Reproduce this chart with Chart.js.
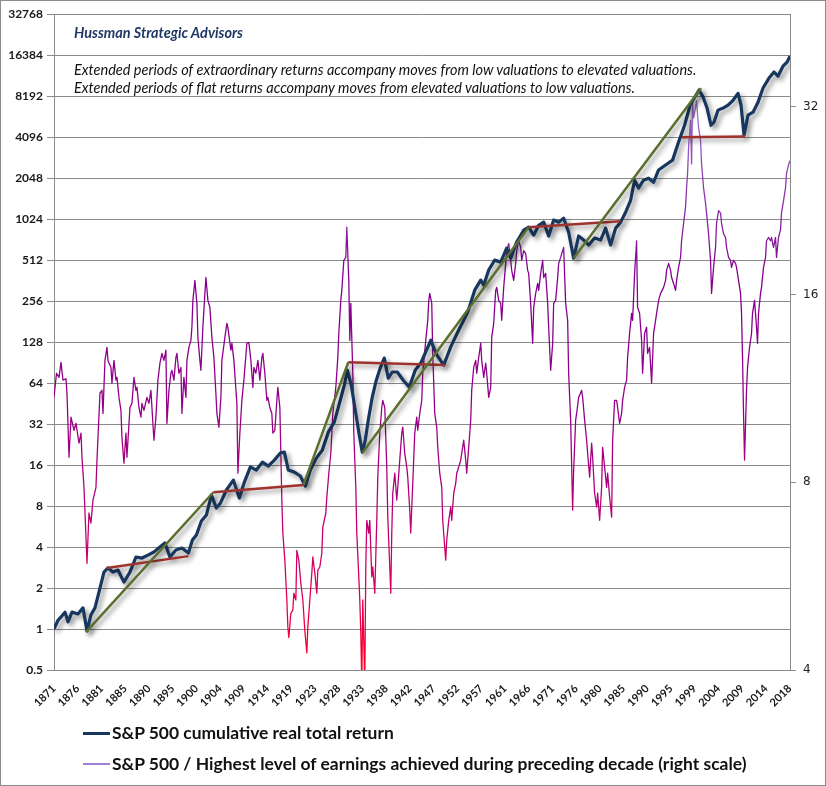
<!DOCTYPE html>
<html>
<head>
<meta charset="utf-8">
<script src="https://cdn.jsdelivr.net/npm/chart.js@4.4.0/dist/chart.umd.min.js"></script>
<style>
  html, body { margin: 0; padding: 0; background: #fff; }
  #wrap { position: relative; width: 826px; height: 786px; font-family: Lato, "Open Sans", sans-serif; overflow: hidden; }
  #wrap canvas { position: absolute; left: 0; top: 0; }
  #frame { position: absolute; left: 0; top: 0; width: 826px; height: 786px; box-sizing: border-box; border: 1px solid #8c8c8c; pointer-events: none; }
  .txt { position: absolute; white-space: nowrap; line-height: 1; transform: translateY(-50%); }
  .note { font-style: italic; color: #111; font-size: 15px; }
  .brand { font-style: italic; font-weight: bold; color: #1f3864; font-size: 15px; }
  .legtxt { font-weight: bold; color: #111; font-size: 18px; }
  .swatch { position: absolute; left: 83px; width: 27px; }
</style>
</head>
<body>
<div id="wrap">
  <canvas id="chart" width="826" height="786"></canvas>
  <div class="txt brand" data-w="169" style="left:74px;top:33px">Hussman Strategic Advisors</div>
  <div class="txt note" data-w="623" style="left:74px;top:70px">Extended periods of extraordinary returns accompany moves from low valuations to elevated valuations.</div>
  <div class="txt note" data-w="561" style="left:74px;top:88px">Extended periods of flat returns accompany moves from elevated valuations to low valuations.</div>
  <div id="legend"></div>
  <div id="frame"></div>
</div>
<script>
// x-axis labels, one every 57 months starting Jan 1871
const tickLabels = ['1871','1876','1881','1885','1890','1895','1900','1904','1909','1914','1919','1923',
  '1928','1933','1938','1942','1947','1952','1957','1961','1966','1971','1976','1980','1985','1990',
  '1995','1999','2004','2009','2014','2018'];
const leftTicks = [0.5,1,2,4,8,16,32,64,128,256,512,1024,2048,4096,8192,16384,32768];
const rightTicks = [4,8,16,32];

// S&P 500 cumulative real total return (left scale)
const returnYears = [1871.0,1871.8,1872.6,1873.2,1873.8,1874.6,1875.8,1876.8,1877.6,1878.4,1879.2,1880.2,
  1881.0,1881.8,1882.8,1883.8,1885.0,1886.2,1887.4,1888.6,1889.8,1891.0,1892.2,1893.2,1894.2,1895.4,
  1896.6,1897.9,1898.7,1899.5,1900.5,1901.5,1902.5,1903.5,1904.3,1905.5,1906.9,1908.1,1909.1,1910.3,
  1911.5,1912.7,1913.9,1915.1,1916.3,1917.1,1917.9,1919.1,1920.3,1921.3,1922.3,1923.5,1924.7,1925.9,
  1927.1,1928.3,1929.1,1929.7,1930.5,1931.3,1932.1,1932.7,1933.3,1933.9,1934.7,1935.5,1936.3,1937.1,
  1937.9,1938.7,1939.7,1940.9,1942.1,1943.3,1944.5,1946.4,1947.6,1949.0,1950.4,1952.0,1953.8,1955.2,
  1956.4,1957.0,1958.0,1959.2,1960.4,1961.6,1962.4,1963.6,1965.0,1966.0,1967.0,1968.0,1969.0,1970.0,
  1971.0,1972.0,1973.0,1974.0,1975.0,1976.0,1977.0,1978.0,1979.2,1980.4,1981.4,1982.4,1983.4,1984.4,
  1985.4,1986.4,1987.2,1988.0,1989.0,1990.0,1991.0,1992.0,1993.4,1994.8,1996.0,1997.2,1998.3,1999.1,
  2000.1,2000.9,2001.7,2002.5,2003.1,2003.9,2004.9,2005.9,2006.9,2007.9,2008.5,2009.1,2009.9,2010.9,
  2011.9,2012.9,2014.1,2015.1,2015.9,2016.9,2017.7,2018.3];
const returnValues = [1.00,1.16,1.25,1.33,1.13,1.33,1.29,1.43,0.97,1.27,1.43,2.0,
  2.62,2.81,2.62,2.71,2.21,2.62,3.38,3.32,3.49,3.68,4.0,4.28,3.38,3.80,
  3.93,3.61,4.50,4.90,6.21,6.87,9.64,7.73,8.40,10.5,12.4,9.16,12.0,15.5,
  14.7,16.8,15.7,17.4,19.6,19.9,14.7,14.2,13.3,11.2,14.7,18.0,20.6,27.9,
  33.1,48.0,61.8,79.7,61.8,40.5,26.5,19.9,24.4,34.3,50.5,67.2,82.7,97.7,
  69.6,77.2,77.2,67.2,59.7,79.7,91.1,132,103,86.7,118,157,212,308,
  365,335,433,512,495,626,529,694,849,893,781,923,973,770,
  1008,973,1040,821,529,770,719,662,744,719,879,662,879,973,
  1152,1408,1978,1734,1978,2048,1911,2353,2557,2778,3769,5008,7032,7912,
  9087,8080,6700,5008,5293,6470,6700,7032,7643,8596,7032,4240,5953,6250,
  7382,9406,11120,12330,11510,13600,14570,16130];

// S&P 500 / highest earnings of preceding decade (right scale)
const valuationYears = [
  1871.0,1871.5,1872.0,1872.4,1872.8,1873.4,1873.6,1874.0,1874.4,1875.0,
  1875.4,1876.0,1876.4,1876.6,1877.0,1877.4,1877.6,1878.0,1878.4,1878.8,
  1879.4,1879.6,1880.2,1880.6,1880.8,1881.2,1881.6,1881.8,1882.4,1882.6,
  1883.0,1883.4,1883.6,1884.0,1884.4,1884.6,1885.0,1885.4,1885.6,1886.2,
  1886.6,1887.0,1887.4,1887.6,1888.0,1888.4,1888.6,1889.0,1889.6,1890.0,
  1890.4,1890.6,1891.0,1891.4,1891.8,1892.2,1892.6,1893.0,1893.4,1893.6,
  1894.0,1894.4,1894.6,1895.0,1895.4,1895.6,1896.0,1896.4,1896.6,1897.0,
  1897.4,1897.6,1898.0,1898.4,1898.6,1898.8,1899.2,1899.6,1899.8,1900.2,
  1900.4,1900.8,1901.2,1901.4,1901.8,1902.2,1902.6,1903.0,1903.4,1903.6,
  1904.0,1904.4,1904.6,1905.2,1905.6,1905.8,1906.4,1906.6,1907.0,1907.6,
  1907.8,1908.2,1908.6,1909.0,1909.6,1910.0,1910.4,1910.8,1911.0,1911.4,
  1911.8,1912.2,1912.6,1912.8,1913.2,1913.6,1913.8,1914.2,1914.6,1914.8,
  1915.2,1915.6,1915.8,1916.2,1916.6,1916.8,1917.2,1917.6,1917.8,1918.0,
  1918.4,1918.8,1919.0,1919.4,1919.6,1920.0,1920.4,1920.8,1921.2,1921.6,
  1921.8,1922.2,1922.6,1922.8,1923.2,1923.6,1923.8,1924.2,1924.6,1924.8,
  1925.4,1925.6,1926.0,1926.4,1926.8,1927.4,1927.8,1928.0,1928.4,1928.6,
  1929.0,1929.4,1929.6,1930.0,1930.2,1930.4,1930.8,1931.0,1931.4,1931.6,
  1932.0,1932.2,1932.4,1932.6,1932.8,1933.2,1933.4,1933.6,1934.0,1934.2,
  1934.6,1934.8,1935.2,1935.6,1935.8,1936.2,1936.6,1936.8,1937.2,1937.6,
  1937.8,1938.2,1938.4,1938.6,1938.8,1939.2,1939.6,1939.8,1940.2,1940.6,
  1940.8,1941.2,1941.6,1941.8,1942.2,1942.4,1942.8,1943.2,1943.6,1943.8,
  1944.2,1944.6,1944.8,1945.4,1945.8,1946.0,1946.2,1946.6,1946.8,1947.2,
  1947.6,1947.8,1948.2,1948.6,1948.8,1949.2,1949.4,1949.6,1950.0,1950.4,
  1950.6,1951.0,1951.4,1951.6,1952.0,1952.4,1952.6,1953.0,1953.4,1953.6,
  1954.0,1954.4,1954.6,1955.0,1955.4,1955.6,1956.0,1956.4,1956.6,1957.0,
  1957.4,1957.6,1958.0,1958.4,1958.6,1959.0,1959.4,1959.6,1960.0,1960.4,
  1960.6,1961.0,1961.4,1961.6,1962.0,1962.4,1962.6,1963.0,1963.4,1963.6,
  1964.0,1964.4,1964.6,1965.0,1965.4,1965.8,1966.0,1966.4,1966.8,1967.0,
  1967.4,1967.8,1968.0,1968.4,1968.8,1969.0,1969.4,1969.8,1970.0,1970.4,
  1970.8,1971.0,1971.4,1971.8,1972.0,1972.4,1972.8,1973.0,1973.4,1973.8,
  1974.0,1974.4,1974.8,1975.0,1975.4,1975.6,1976.0,1976.6,1976.8,1977.2,
  1977.6,1977.8,1978.2,1978.6,1978.8,1979.2,1979.6,1979.8,1980.2,1980.6,
  1980.8,1981.2,1981.6,1981.8,1982.2,1982.6,1982.8,1983.2,1983.6,1983.8,
  1984.2,1984.6,1984.8,1985.2,1985.6,1985.8,1986.2,1986.6,1986.8,1987.2,
  1987.6,1987.8,1988.2,1988.6,1988.8,1989.2,1989.6,1989.8,1990.2,1990.6,
  1991.0,1991.4,1991.6,1992.0,1992.4,1993.0,1993.4,1993.6,1994.0,1994.4,
  1994.6,1995.0,1995.4,1995.6,1996.0,1996.4,1996.6,1997.0,1997.4,1997.6,
  1997.8,1998.0,1998.4,1998.6,1998.8,1999.0,1999.4,1999.6,2000.0,2000.4,
  2000.6,2001.0,2001.4,2001.6,2002.0,2002.4,2002.6,2003.0,2003.4,2003.6,
  2004.0,2004.4,2004.6,2005.0,2005.4,2005.6,2006.0,2006.4,2006.6,2007.0,
  2007.4,2007.6,2008.0,2008.4,2008.6,2008.8,2009.0,2009.2,2009.6,2009.8,
  2010.2,2010.6,2010.8,2011.2,2011.6,2011.8,2012.0,2012.4,2012.6,2013.0,
  2013.4,2013.6,2014.0,2014.4,2014.6,2015.0,2015.4,2015.6,2016.0,2016.4,
  2016.6,2017.0,2017.4,2017.6,2017.9,2018.25];
const valuationValues = [
  10.94,11.96,11.78,12.45,11.66,11.72,11.11,8.77,10.17,9.69,
  9.94,9.24,9.59,8.77,7.85,6.53,5.93,7.14,6.88,7.49,
  7.85,8.68,11.11,11.23,10.31,12.54,13.16,12.54,12.22,11.53,
  12.54,11.66,11.78,10.94,10.43,9.44,8.58,9.59,8.77,10.54,
  10.70,11.78,11.23,11.35,10.54,10.17,10.70,10.43,10.94,10.70,
  11.23,10.54,9.34,10.17,11.66,12.41,12.87,12.54,13.02,9.94,
  11.23,11.96,12.09,11.66,12.68,12.87,11.96,12.22,10.31,11.78,
  10.94,12.54,13.16,13.5,14.17,15.65,16.85,15.48,13.65,12.54,
  12.09,14.17,16.06,17.03,15.65,15.25,13.65,12.68,11.11,10.31,
  9.80,10.94,12.54,13.65,14.38,14.17,13.02,13.36,12.54,10.70,
  8.27,9.59,10.82,11.66,13.36,13.4,12.54,11.35,12.22,11.96,
  12.54,11.66,12.68,12.87,11.96,10.82,10.94,10.54,10.31,9.59,
  9.69,10.82,11.35,10.54,7.49,6.63,6.0,5.18,4.69,4.51,
  4.93,4.99,5.31,5.18,6.22,6.0,5.51,5.18,4.63,4.26,
  4.69,5.18,5.72,6.07,5.72,5.31,5.78,5.85,6.16,6.78,
  7.14,7.57,8.27,8.90,10.31,11.35,12.68,13.86,15.65,16.24,
  18.14,18.34,20.5,16.85,13.5,15.48,11.96,9.59,7.85,6.63,
  5.64,5.18,4.59,3.8,5.18,3.8,5.85,6.95,6.63,6.95,
  5.64,5.85,5.31,6.95,8.15,9.59,10.54,10.82,10.54,8.46,
  7.03,5.85,5.31,6.63,7.68,8.27,7.49,7.85,8.68,9.59,
  9.80,8.90,8.46,8.15,7.22,6.63,7.97,9.59,10.17,9.69,
  10.31,10.82,11.96,13.5,14.54,15.65,16.06,15.48,12.87,10.31,
  9.80,9.10,8.27,7.85,6.95,6.29,6.0,6.46,6.95,7.30,
  6.95,7.68,7.97,8.27,8.46,8.68,8.90,9.34,8.68,8.27,
  9.10,10.06,11.23,12.22,12.54,11.96,12.68,13.36,12.54,11.78,
  12.41,11.96,10.94,11.35,13.65,14.38,16.24,16.42,15.65,15.48,
  14.54,16.42,17.94,18.8,19.3,18.14,17.48,16.85,17.94,18.8,
  19.5,19.03,18.14,18.8,18.6,17.48,17.29,15.48,13.36,15.25,
  16.06,16.66,16.24,17.29,18.14,17.03,17.29,15.48,14.17,12.09,
  13.36,15.48,15.65,17.03,17.94,18.34,18.8,19.03,15.48,14.54,
  11.96,10.06,7.22,8.36,10.06,10.31,10.94,11.23,10.94,10.06,
  9.34,8.90,8.15,9.24,8.77,7.68,7.30,7.68,6.95,7.85,
  9.10,8.46,7.85,8.27,7.57,7.03,9.34,10.82,10.82,10.54,
  9.94,10.31,10.82,11.35,11.66,12.68,13.86,14.92,14.54,17.29,
  19.5,15.25,14.92,13.5,11.96,13.86,14.17,12.87,13.16,11.53,
  13.86,14.54,14.92,15.65,16.06,16.42,16.85,17.48,17.94,17.48,
  17.03,16.66,16.24,16.85,17.68,18.34,19.5,20.8,22.1,23.7,
  25.0,27.5,30.4,25.9,32.7,30.7,31.9,32.7,29.6,28.2,
  25.9,23.7,22.4,21.6,20.0,18.14,16.06,17.68,19.03,20.8,
  21.8,21.6,20.8,20.0,19.74,19.03,18.34,18.14,17.68,18.14,
  17.94,17.68,16.85,16.06,14.92,12.68,10.31,8.68,11.23,12.22,
  13.16,13.86,14.92,15.65,14.17,13.36,14.92,16.06,16.42,17.68,
  18.34,19.5,19.74,19.5,19.74,19.03,19.74,18.34,19.74,20.3,
  21.6,22.6,23.7,25.0,25.6,26.2];

// hand-drawn trend segments on the return line: [start, end]
const greenTrendYears = [[1877.4,1902.9],[1920.9,1929.9],[1932.7,1966.0],[1975.0,2000.5]];
const greenTrendValues = [[0.95,10.1],[11.4,91],[19.6,893],[529,9380]];
const redTrendYears = [[1881.6,1897.9],[1902.9,1920.9],[1929.9,1949.2],[1966.0,1984.4],[1996.7,2009.3]];
const redTrendValues = [[2.81,3.43],[10.1,11.4],[91,86.9],[893,990],[4096,4150]];

function toPoints(xs, ys) {
  return xs.map((x, i) => ({ x: x, y: ys[i] }));
}
function segmentPoints(xs, ys) {
  const pts = [];
  xs.forEach((seg, i) => {
    pts.push({ x: seg[0], y: ys[i][0] }, { x: seg[1], y: ys[i][1] });
    pts.push({ x: seg[1] + 0.01, y: null });
  });
  return pts;
}

let purpleGradient = null;
let gradientKey = null;
function valuationColor(context) {
  const chart = context.chart;
  const a = chart.chartArea;
  if (!a) return '#800080';
  const key = a.top + ':' + a.bottom;
  if (!purpleGradient || gradientKey !== key) {
    const g = chart.ctx.createLinearGradient(0, a.top, 0, a.bottom);
    g.addColorStop(0.0, '#b8a0e4');
    g.addColorStop(0.12, '#a27fd3');
    g.addColorStop(0.25, '#8e3fb0');
    g.addColorStop(0.40, '#840090');
    g.addColorStop(0.60, '#940088');
    g.addColorStop(0.75, '#b80078');
    g.addColorStop(0.87, '#dc005c');
    g.addColorStop(1.0, '#ff0028');
    purpleGradient = g;
    gradientKey = key;
  }
  return purpleGradient;
}

const shadowPlugin = {
  id: 'lineShadow',
  beforeDatasetDraw(chart, args) {
    if (!chart.data.datasets[args.index].shadow) return;
    const c = chart.ctx;
    c.save();
    c.shadowColor = 'rgba(0,0,0,0.45)';
    c.shadowBlur = 5;
    c.shadowOffsetX = 3;
    c.shadowOffsetY = 3;
  },
  afterDatasetDraw(chart, args) {
    if (chart.data.datasets[args.index].shadow) chart.ctx.restore();
  }
};

const axisGray = '#8a8a8a';

const chart = new Chart(document.getElementById('chart'), {
  type: 'line',
  data: {
    datasets: [
      {
        label: 'green trend',
        data: segmentPoints(greenTrendYears, greenTrendValues),
        borderColor: '#5b6f2e',
        borderWidth: 2.5,
        yAxisID: 'y',
        order: 0,
        shadow: true
      },
      {
        label: 'red trend',
        data: segmentPoints(redTrendYears, redTrendValues),
        borderColor: '#a0322e',
        borderWidth: 2.5,
        yAxisID: 'y',
        order: 0,
        shadow: true
      },
      {
        label: 'S&P 500 cumulative real total return',
        data: toPoints(returnYears, returnValues),
        borderColor: '#17375e',
        borderWidth: 3.2,
        yAxisID: 'y',
        order: 1,
        shadow: true,
        inLegend: true,
        legendColor: '#17375e',
        legendWidth: 3
      },
      {
        label: 'S&P 500 / Highest level of earnings achieved during preceding decade (right scale)',
        data: toPoints(valuationYears, valuationValues),
        borderColor: valuationColor,
        borderWidth: 1.3,
        yAxisID: 'y1',
        order: 2,
        inLegend: true,
        legendColor: '#a080d6',
        legendWidth: 1.3
      }
    ]
  },
  options: {
    responsive: false,
    animation: false,
    devicePixelRatio: 1,
    spanGaps: false,
    elements: { point: { radius: 0 }, line: { tension: 0, borderJoinStyle: 'round' } },
    layout: { padding: { top: 14, bottom: 76, left: 0, right: 0 } },
    plugins: { legend: { display: false }, tooltip: { enabled: false } },
    scales: {
      x: {
        type: 'linear',
        min: 1871,
        max: 2018.3,
        afterBuildTicks: s => { s.ticks = tickLabels.map((l, i) => ({ value: 1871 + i * 4.75 })); },
        afterFit: s => { s.height = 40; },
        grid: { display: false },
        border: { display: true, color: axisGray, width: 1 },
        ticks: {
          autoSkip: false,
          minRotation: 45,
          maxRotation: 45,
          padding: 4,
          color: '#1a1a1a',
          font: { family: 'Lato', size: 11, weight: 'bold' },
          callback: (v, i) => tickLabels[i]
        }
      },
      y: {
        type: 'logarithmic',
        position: 'left',
        min: 0.5,
        max: 32768,
        afterBuildTicks: s => { s.ticks = leftTicks.map(v => ({ value: v })); },
        afterFit: s => { s.width = 54; },
        grid: { color: axisGray, lineWidth: 1, tickLength: 7, drawTicks: true },
        border: { display: true, color: axisGray, width: 1 },
        ticks: {
          padding: 4,
          color: '#1a1a1a',
          font: { family: 'Lato', size: 12, weight: 'bold' },
          callback: v => String(v)
        }
      },
      y1: {
        type: 'logarithmic',
        position: 'right',
        min: 4,
        max: 45,
        afterBuildTicks: s => { s.ticks = rightTicks.map(v => ({ value: v })); },
        afterFit: s => { s.width = 36; },
        grid: { drawOnChartArea: false, color: axisGray, tickLength: 6 },
        border: { display: true, color: axisGray, width: 1 },
        ticks: {
          padding: 7,
          color: '#222',
          font: { family: 'DejaVu Sans', size: 12 },
          callback: v => String(v)
        }
      }
    }
  },
  plugins: [shadowPlugin]
});

// legend below the plot, built from the datasets
const legendTargets = [{ y: 733, w: 282 }, { y: 764, w: 635 }];
const legend = document.getElementById('legend');
chart.data.datasets.filter(d => d.inLegend).forEach((d, i) => {
  const t = legendTargets[i];
  const sw = document.createElement('div');
  sw.className = 'swatch';
  sw.style.top = (t.y - d.legendWidth / 2) + 'px';
  sw.style.height = d.legendWidth + 'px';
  sw.style.background = d.legendColor;
  legend.appendChild(sw);
  const tx = document.createElement('div');
  tx.className = 'txt legtxt';
  tx.dataset.w = t.w;
  tx.style.left = '112px';
  tx.style.top = t.y + 'px';
  tx.textContent = d.label;
  legend.appendChild(tx);
});

// match text widths to the reference layout
document.querySelectorAll('.txt[data-w]').forEach(el => {
  const w = el.getBoundingClientRect().width;
  const fs = parseFloat(getComputedStyle(el).fontSize);
  el.style.fontSize = (fs * Number(el.dataset.w) / w).toFixed(2) + 'px';
});
</script>
</body>
</html>
